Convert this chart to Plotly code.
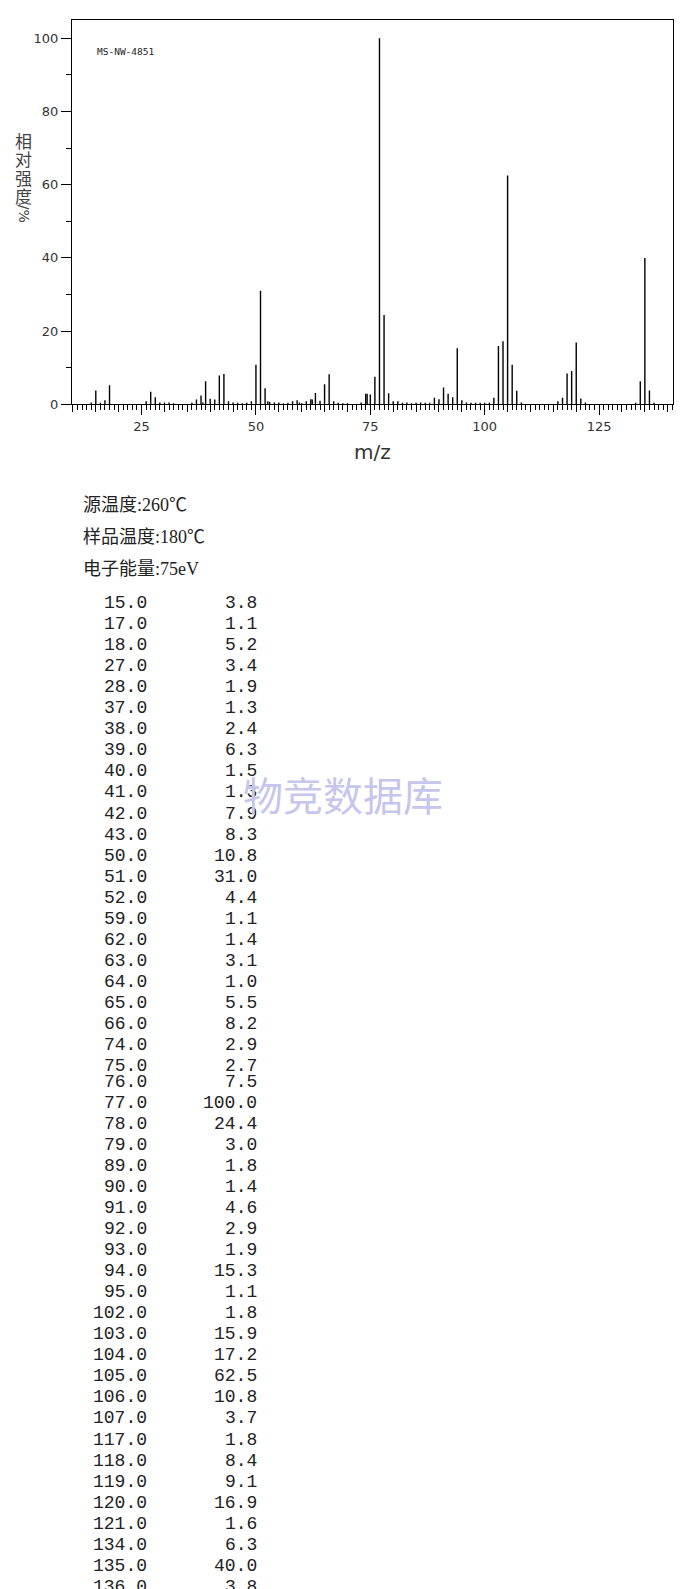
import plotly.graph_objects as go

PAGE_W, PAGE_H = 687, 1589
OFF = 8  # default body margin of the page
W, H = PAGE_W - OFF, PAGE_H - OFF

# ---------------- data ----------------
table_mz = [15, 17, 18, 27, 28, 37, 38, 39, 40, 41, 42, 43, 50, 51, 52, 59, 62, 63, 64, 65,
            66, 74, 75, 76, 77, 78, 79, 89, 90, 91, 92, 93, 94, 95, 102, 103, 104, 105, 106, 107,
            117, 118, 119, 120, 121, 134, 135, 136]
table_int = [3.8, 1.1, 5.2, 3.4, 1.9, 1.3, 2.4, 6.3, 1.5, 1.3, 7.9, 8.3, 10.8, 31.0, 4.4, 1.1, 1.4, 3.1, 1.0, 5.5,
             8.2, 2.9, 2.7, 7.5, 100.0, 24.4, 3.0, 1.8, 1.4, 4.6, 2.9, 1.9, 15.3, 1.1, 1.8, 15.9, 17.2, 62.5, 10.8, 3.7,
             1.8, 8.4, 9.1, 16.9, 1.6, 6.3, 40.0, 3.8]

# small peaks visible in the spectrum but not listed in the table
minor_mz = [14, 16, 26, 29, 30, 31, 32, 36, 38.4, 44, 45, 46, 47, 48, 49, 52.6, 53, 54, 55, 56,
            57, 58, 59.5, 60, 61, 62.3, 67, 68, 69, 70, 73, 74.3, 80, 81, 82, 83, 84, 85, 86, 87,
            88, 96, 97, 98, 99, 100, 101, 108, 116, 122, 133, 137]
minor_int = [0.5, 0.4, 0.8, 0.5, 0.5, 0.5, 0.3, 0.4, 0.5, 0.8, 0.5, 0.4, 0.3, 0.4, 0.8, 0.8, 0.6, 0.5, 0.5, 0.3,
             0.4, 0.8, 0.5, 0.3, 0.8, 1.3, 0.8, 0.4, 0.3, 0.3, 0.5, 2.9, 0.8, 0.8, 0.4, 0.5, 0.3, 0.4, 0.5, 0.4,
             0.4, 0.5, 0.4, 0.4, 0.4, 0.4, 0.4, 0.5, 0.8, 0.5, 0.4, 0.4]

spectrum_id = "MS-NW-4851"
y_title_chars = ["相", "对", "强", "度"]
y_title_tail = "/%"
x_title = "m/z"
header_lines = ["源温度:260℃", "样品温度:180℃", "电子能量:75eV"]
watermark = "物竞数据库"

x_range = [9.8, 141.15]
y_range = [0, 105.0]

# ---------------- helpers (page pixel -> paper fraction) ----------------
def fx(px):
    return (px - OFF) / W

def fy(py):
    return 1 - (py - OFF) / H

peak_mz = table_mz + minor_mz
peak_int = table_int + minor_int
xs, ys = [], []
for m, v in zip(peak_mz, peak_int):
    xs += [m, m, None]
    ys += [0, v, None]

fig = go.Figure()
fig.add_trace(go.Scatter(x=xs, y=ys, mode="lines", line=dict(color="black", width=1.4),
                         hoverinfo="skip", showlegend=False))
# helper trace so the overlay axis (ticks every 5) is drawn
fig.add_trace(go.Scatter(x=[x_range[0]], y=[0], xaxis="x2", yaxis="y", mode="markers",
                         marker=dict(opacity=0), hoverinfo="skip", showlegend=False))

tickfont = dict(family="DejaVu Sans", size=13, color="#333")

fig.update_layout(
    width=W, height=H,
    margin=dict(l=0, r=0, t=0, b=0),
    paper_bgcolor="white", plot_bgcolor="white",
    xaxis=dict(domain=[fx(72), fx(673)], range=x_range, showgrid=False, zeroline=False,
               showline=True, linecolor="black", linewidth=1, mirror=True,
               ticks="outside", ticklen=10, tickwidth=1, tickcolor="black",
               tickmode="linear", tick0=0, dtick=25, tickfont=tickfont, automargin=False,
               minor=dict(ticks="outside", tick0=0, dtick=1, ticklen=5, tickwidth=1,
                          tickcolor="black", showgrid=False)),
    xaxis2=dict(overlaying="x", matches="x", anchor="y", side="bottom", range=x_range,
                ticks="outside", ticklen=7, tickwidth=1, tickcolor="black",
                tickmode="linear", tick0=0, dtick=5, showticklabels=False,
                showgrid=False, zeroline=False, showline=False, automargin=False),
    yaxis=dict(domain=[fy(404.3), fy(20)], range=y_range, showgrid=False, zeroline=False,
               showline=True, linecolor="black", linewidth=1, mirror=True,
               ticks="outside", ticklen=10, tickwidth=1, tickcolor="black",
               tickmode="linear", tick0=0, dtick=20, tickfont=tickfont, automargin=False,
               minor=dict(ticks="outside", tick0=0, dtick=10, ticklen=5, tickwidth=1,
                          tickcolor="black", showgrid=False)),
)

ann = []
# spectrum id
ann.append(dict(x=fx(95), y=fy(51.5), xref="paper", yref="paper", xanchor="left", yanchor="middle",
                text=spectrum_id, showarrow=False,
                font=dict(family="DejaVu Sans Mono", size=9.5, color="#222")))
# y title (vertical writing)
for i, ch in enumerate(y_title_chars):
    ann.append(dict(x=fx(23.7), y=fy(140.3 + i * 18.4), xref="paper", yref="paper",
                    xanchor="center", yanchor="middle", text=ch, showarrow=False,
                    font=dict(family="Noto Sans CJK SC", size=17, color="#444")))
ann.append(dict(x=fx(23.5), y=fy(213.3), xref="paper", yref="paper", xanchor="center", yanchor="middle",
                text=y_title_tail, textangle=90, showarrow=False,
                font=dict(family="DejaVu Sans", size=14, color="#444")))
# x title
ann.append(dict(x=fx(372.5), y=fy(452), xref="paper", yref="paper", xanchor="center", yanchor="middle",
                text=x_title, showarrow=False,
                font=dict(family="DejaVu Sans", size=20, color="#333")))
# header lines
for i, line in enumerate(header_lines):
    ann.append(dict(x=fx(81), y=fy(505 + i * 31.8), xref="paper", yref="paper", xanchor="left",
                    yanchor="middle", text=line, showarrow=False,
                    font=dict(family="Liberation Serif, Noto Sans CJK SC", size=18, color="#222")))
# peak table
row0, row_step, tight_after, tight_shift = 603.3, 21.02, 22, 4.6
for i, (m, v) in enumerate(zip(table_mz, table_int)):
    py = row0 + i * row_step - (tight_shift if i > tight_after else 0)
    for px, txt in ((148.5, f"{m:.1f}"), (259, f"{v:.1f}")):
        ann.append(dict(x=fx(px), y=fy(py), xref="paper", yref="paper", xanchor="right",
                        yanchor="middle", text=txt, showarrow=False,
                        font=dict(family="Liberation Mono", size=18, color="#222")))
# watermark
ann.append(dict(x=fx(343), y=fy(794), xref="paper", yref="paper", xanchor="center", yanchor="middle",
                text=watermark, showarrow=False,
                font=dict(family="Noto Sans CJK SC", size=40, color="#c6c6ec")))

fig.update_layout(annotations=ann)
fig.write_html("out.html")
